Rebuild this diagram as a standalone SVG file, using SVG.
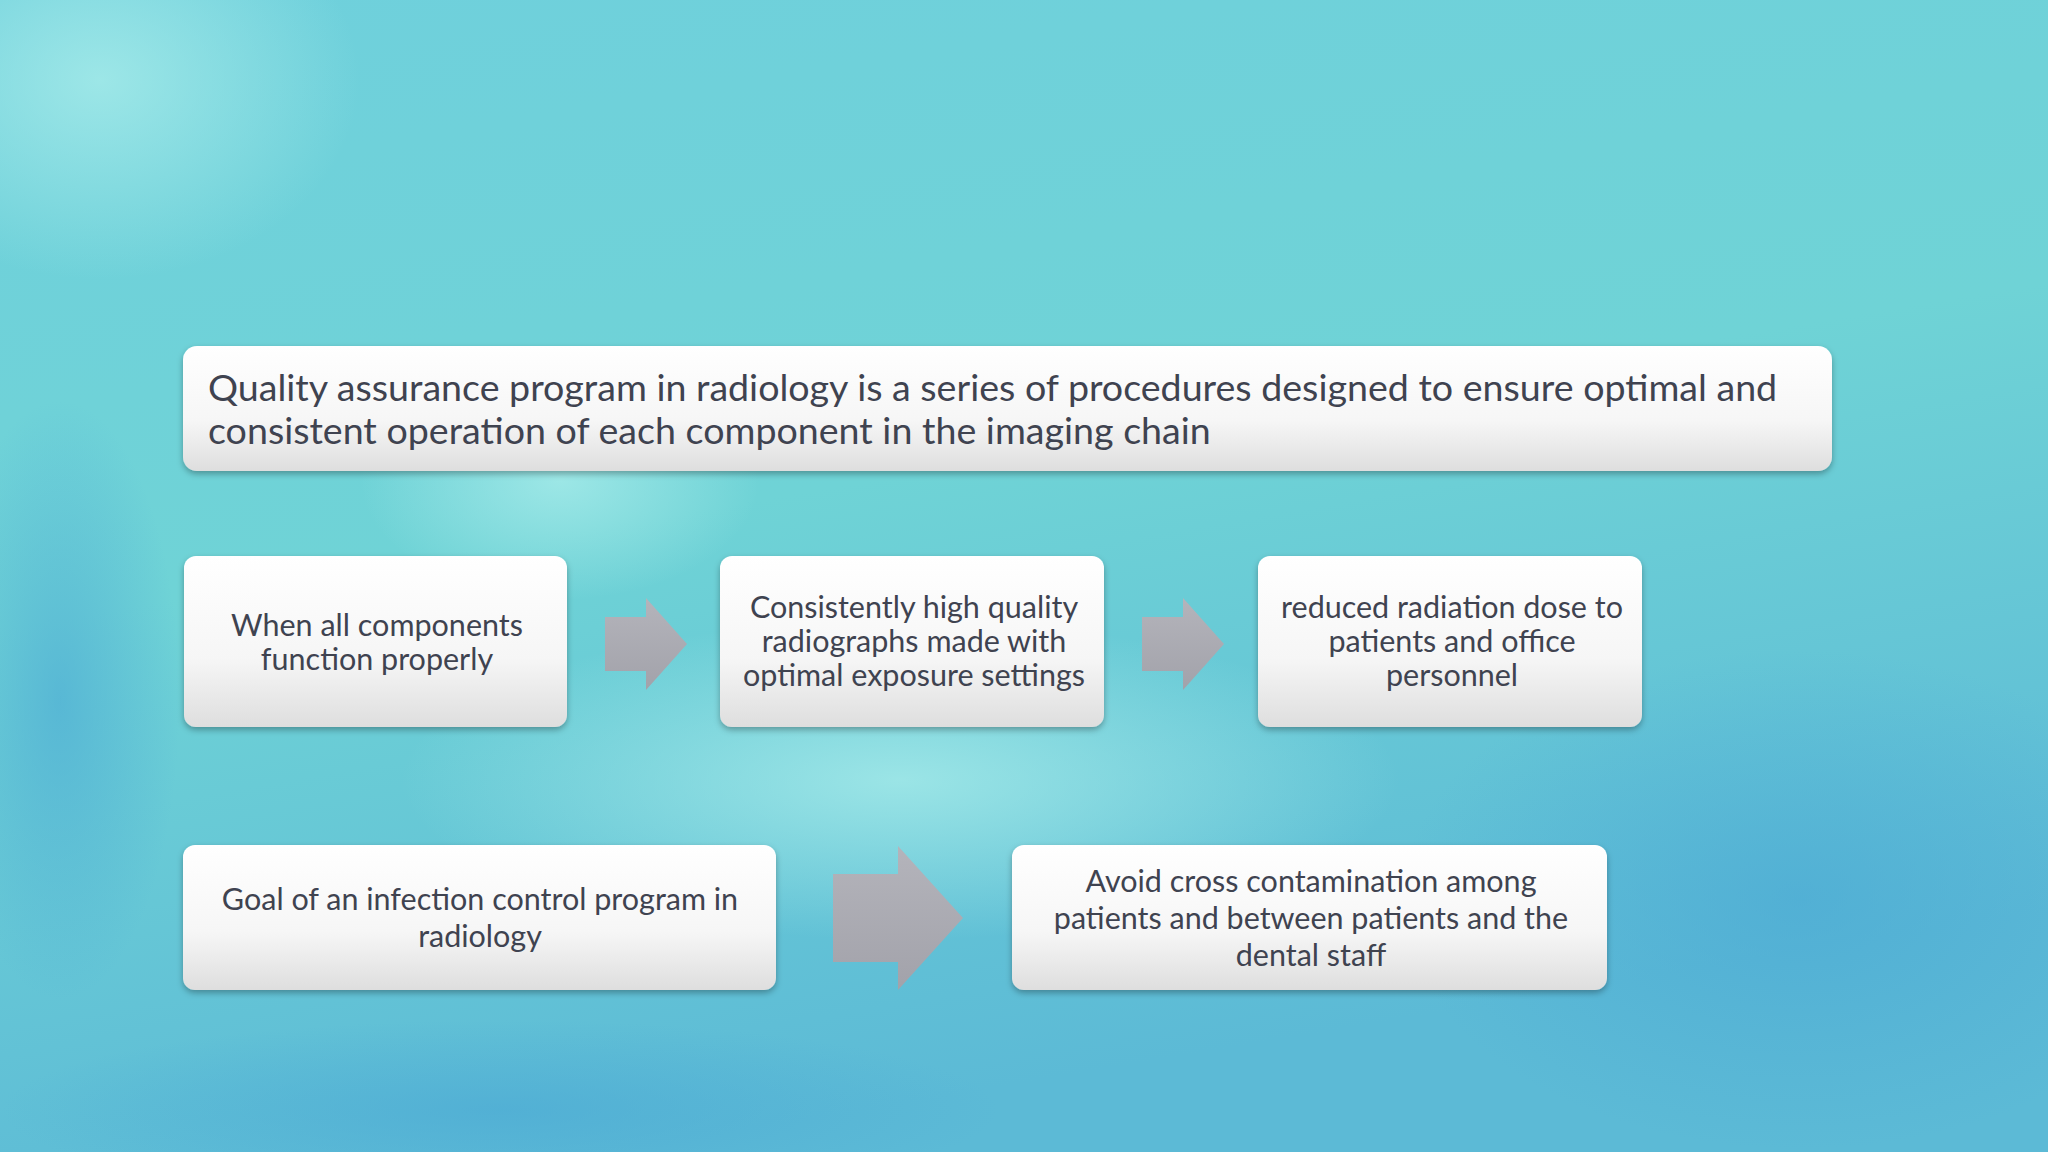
<svg xmlns="http://www.w3.org/2000/svg" width="2048" height="1152" viewBox="0 0 2048 1152">
<defs>
<linearGradient id="bg" x1="0" y1="0" x2="0.3" y2="1">
<stop offset="0" stop-color="#6fd0dc"/>
<stop offset="0.5" stop-color="#6fd3d6"/>
<stop offset="1" stop-color="#5cbad6"/>
</linearGradient>
<radialGradient id="b1" cx="0.5" cy="0.5" r="0.5"><stop offset="0" stop-color="#a8ecea" stop-opacity="0.8"/><stop offset="1" stop-color="#a8ecea" stop-opacity="0"/></radialGradient>
<radialGradient id="b2" cx="0.5" cy="0.5" r="0.5"><stop offset="0" stop-color="#4aa8d4" stop-opacity="0.6"/><stop offset="1" stop-color="#4aa8d4" stop-opacity="0"/></radialGradient>
<linearGradient id="box" x1="0" y1="0" x2="0" y2="1"><stop offset="0" stop-color="#ffffff"/><stop offset="0.6" stop-color="#f6f6f6"/><stop offset="1" stop-color="#dedede"/></linearGradient>
<linearGradient id="arr" x1="0" y1="0" x2="0" y2="1"><stop offset="0" stop-color="#b4b4bb"/><stop offset="1" stop-color="#a2a2aa"/></linearGradient>
<filter id="sh" x="-10%" y="-20%" width="120%" height="150%"><feDropShadow dx="0" dy="3" stdDeviation="3" flood-color="#000" flood-opacity="0.3"/></filter>
<style>
.bx{fill:url(#box);filter:url(#sh)}
.t{font-family:Lato,"Open Sans",sans-serif;font-size:30.5px;fill:#3f4350;text-anchor:middle}
.tt{font-family:Lato,"Open Sans",sans-serif;font-size:37.6px;fill:#3f4350}
.ar{fill:url(#arr)}
</style>
</defs>
<rect width="2048" height="1152" fill="url(#bg)"/>
<ellipse cx="100" cy="80" rx="260" ry="200" fill="url(#b1)"/>
<ellipse cx="560" cy="480" rx="200" ry="120" fill="url(#b1)"/>
<ellipse cx="900" cy="780" rx="500" ry="160" fill="url(#b1)"/>
<ellipse cx="500" cy="1110" rx="500" ry="90" fill="url(#b2)"/>
<ellipse cx="1800" cy="900" rx="400" ry="250" fill="url(#b2)"/>
<ellipse cx="60" cy="700" rx="120" ry="300" fill="url(#b2)"/>
<g id="n0"><rect class="bx" x="183" y="346" width="1649" height="125" rx="14"/>
<text class="tt" x="208" y="401">Quality assurance program in radiology is a series of procedures designed to ensure optimal and</text>
<text class="tt" x="208" y="444">consistent operation of each component in the imaging chain</text></g>
<g id="n1"><rect class="bx" x="184" y="556" width="383" height="171" rx="12"/>
<text class="t" x="377" y="636">When all components</text><text class="t" x="377" y="670">function properly</text></g>
<g id="n2"><rect class="bx" x="720" y="556" width="384" height="171" rx="12"/>
<text class="t" x="914" y="618">Consistently high quality</text><text class="t" x="914" y="652">radiographs made with</text><text class="t" x="914" y="686">optimal exposure settings</text></g>
<g id="n3"><rect class="bx" x="1258" y="556" width="384" height="171" rx="12"/>
<text class="t" x="1452" y="618">reduced radiation dose to</text><text class="t" x="1452" y="652">patients and office</text><text class="t" x="1452" y="686">personnel</text></g>
<g id="n4"><rect class="bx" x="183" y="845" width="593" height="145" rx="12"/>
<text class="t" x="480" y="910">Goal of an infection control program in</text><text class="t" x="480" y="947">radiology</text></g>
<g id="n5"><rect class="bx" x="1012" y="845" width="595" height="145" rx="12"/>
<text class="t" x="1311" y="892">Avoid cross contamination among</text><text class="t" x="1311" y="929">patients and between patients and the</text><text class="t" x="1311" y="966">dental staff</text></g>
<g id="connectors">
<polygon class="ar" points="605,617 646,617 646,598 687,644 646,690 646,671 605,671"/>
<polygon class="ar" points="1142,617 1183,617 1183,598 1224,644 1183,690 1183,671 1142,671"/>
<polygon class="ar" points="833,874 898,874 898,846 963,918 898,990 898,962 833,962"/>
</g>
</svg>
